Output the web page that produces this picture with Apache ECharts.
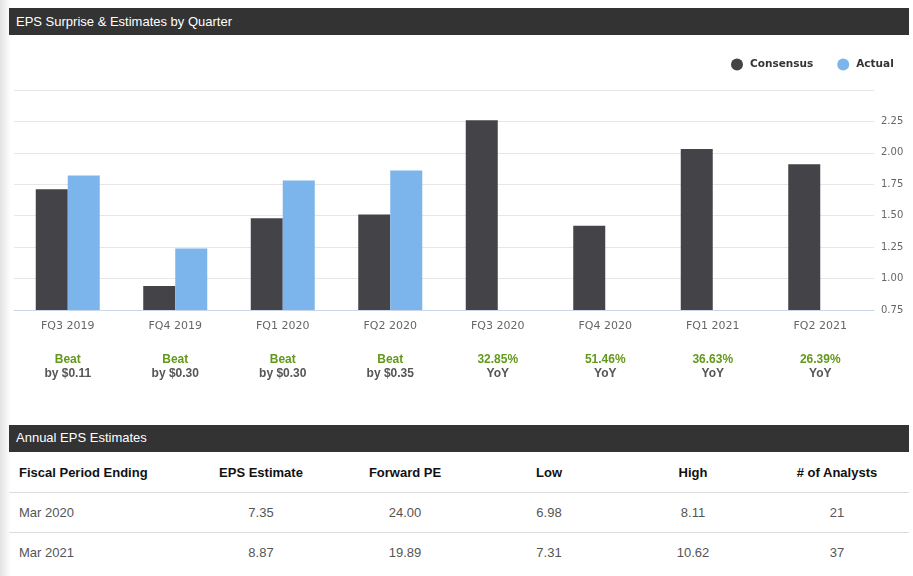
<!DOCTYPE html>
<html>
<head>
<meta charset="utf-8">
<script src="https://cdn.jsdelivr.net/npm/echarts@6/dist/echarts.min.js"></script>
<style>
  html, body { margin: 0; padding: 0; width: 913px; height: 576px; overflow: hidden; background: #fff; font-family: "Liberation Sans", Arial, sans-serif; }
  #shade { position: absolute; left: 0; top: 0; width: 12px; height: 576px; background: linear-gradient(to right, #e2e2e2 0px, #f3f3f3 6px, #ffffff 11px); }
  .bar { position: absolute; left: 9px; width: 900px; background: #333333; color: #fff; font-size: 13px; box-sizing: border-box; padding-left: 7px; }
  #bar1 { top: 8px; height: 27px; line-height: 27px; }
  #bar2 { top: 425px; height: 27px; line-height: 26px; }
  #chart { position: absolute; left: 0; top: 0; width: 913px; height: 410px; }
  #tbl { position: absolute; left: 9px; top: 453px; width: 900px; border-collapse: collapse; font-size: 13px; }
  #tbl th, #tbl td { height: 39px; padding: 0; text-align: center; border-bottom: 1px solid #dddddd; }
  #tbl th { font-weight: bold; color: #111; }
  #tbl td { color: #555; }
  #tbl tr:last-child td { border-bottom: none; }
  #tbl .first { text-align: left; padding-left: 10px; width: 170px; }
</style>
</head>
<body>
<div id="shade"></div>
<div id="chart"></div>
<div class="bar" id="bar1">EPS Surprise &amp; Estimates by Quarter</div>
<div class="bar" id="bar2">Annual EPS Estimates</div>
<table id="tbl"></table>
<script>
// ---- chart data ----
const categories = ["FQ3 2019", "FQ4 2019", "FQ1 2020", "FQ2 2020", "FQ3 2020", "FQ4 2020", "FQ1 2021", "FQ2 2021"];
const consensus = [1.71, 0.94, 1.48, 1.51, 2.26, 1.42, 2.03, 1.91];
const actual = [1.82, 1.24, 1.78, 1.86, null, null, null, null];
const surpriseTop = ["Beat", "Beat", "Beat", "Beat", "32.85%", "51.46%", "36.63%", "26.39%"];
const surpriseBottom = ["by $0.11", "by $0.30", "by $0.30", "by $0.35", "YoY", "YoY", "YoY", "YoY"];
const yTickLabels = ["0.75", "1.00", "1.25", "1.50", "1.75", "2.00", "2.25"];

// ---- table data ----
const tableHeaders = ["Fiscal Period Ending", "EPS Estimate", "Forward PE", "Low", "High", "# of Analysts"];
const periods = ["Mar 2020", "Mar 2021"];
const epsEstimates = ["7.35", "8.87"];
const forwardPE = ["24.00", "19.89"];
const lows = ["6.98", "7.31"];
const highs = ["8.11", "10.62"];
const analysts = ["21", "37"];

// build table
(function () {
  const t = document.getElementById('tbl');
  let h = '<tr>';
  tableHeaders.forEach((c, i) => {
    h += '<th' + (i === 0 ? ' class="first"' : ' style="width:144px"') + '>' + c + '</th>';
  });
  h += '</tr>';
  periods.forEach((p, r) => {
    h += '<tr><td class="first">' + p + '</td><td>' + epsEstimates[r] + '</td><td>' + forwardPE[r] +
      '</td><td>' + lows[r] + '</td><td>' + highs[r] + '</td><td>' + analysts[r] + '</td></tr>';
  });
  t.innerHTML = h;
})();

const chart = echarts.init(document.getElementById('chart'), null, { renderer: 'canvas' });
const axisFont = '"DejaVu Sans", Verdana, sans-serif';
chart.setOption({
  animation: false,
  color: ['#434348', '#7cb5ec'],
  legend: {
    left: 731,
    top: 58.5,
    padding: 0,
    icon: 'circle',
    itemWidth: 12,
    itemHeight: 12,
    itemGap: 24,
    textStyle: { fontFamily: axisFont, fontWeight: 'bold', fontSize: 10.5, color: '#333333', padding: [0, 0, 0, 2] },
    data: ['Consensus', 'Actual']
  },
  grid: { left: 14, right: 39, top: 90, bottom: 100, containLabel: false, outerBoundsMode: 'none' },
  xAxis: {
    type: 'category',
    data: categories,
    axisLine: { lineStyle: { color: '#ccd6eb', width: 1 } },
    axisTick: { alignWithLabel: true, length: 9, lineStyle: { color: '#ccd6eb' } },
    splitLine: { show: false },
    axisLabel: {
      margin: 9,
      interval: 0,
      formatter: function (v, i) {
        return '{q|' + v + '}\n{s| }\n{g|' + surpriseTop[i] + '}\n{b|' + surpriseBottom[i] + '}';
      },
      rich: {
        q: { fontFamily: axisFont, fontSize: 11, color: '#666666', lineHeight: 14 },
        s: { fontSize: 10, lineHeight: 20 },
        g: { fontFamily: '"Liberation Sans", Arial, sans-serif', fontSize: 12, fontWeight: 'bold', color: '#62991a', lineHeight: 14 },
        b: { fontFamily: '"Liberation Sans", Arial, sans-serif', fontSize: 12, fontWeight: 'bold', color: '#555555', lineHeight: 14 }
      }
    }
  },
  yAxis: {
    type: 'value',
    position: 'right',
    min: 0.75,
    max: 2.5,
    interval: 0.25,
    axisLine: { show: false },
    axisTick: { show: false },
    splitLine: { lineStyle: { color: '#e6e6e6', width: 1 } },
    axisLabel: {
      margin: 7,
      fontFamily: axisFont,
      fontSize: 10,
      color: '#666666',
      formatter: function (v) {
        const s = v.toFixed(2);
        return yTickLabels.indexOf(s) >= 0 ? s : '';
      }
    }
  },
  series: [
    { name: 'Consensus', type: 'bar', data: consensus, barWidth: 32, barGap: '0%' },
    { name: 'Actual', type: 'bar', data: actual, barWidth: 32, barGap: '0%' }
  ]
});
</script>
</body>
</html>
